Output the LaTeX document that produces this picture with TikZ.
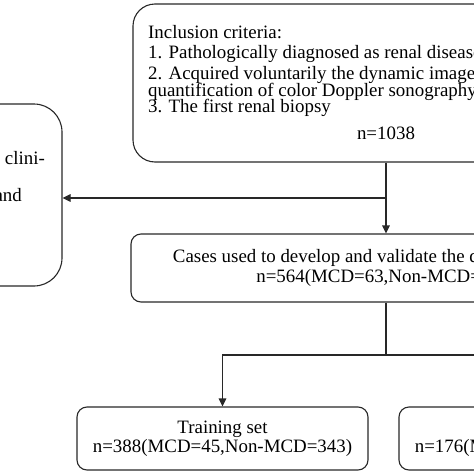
\documentclass[tikz,border=0pt]{standalone}
\usepackage{fontspec}
\setmainfont{Liberation Serif}
\usetikzlibrary{arrows.meta,positioning}
\definecolor{cLine}{RGB}{40,40,40}

\begin{document}
\begin{tikzpicture}[x=1pt,y=-1pt,
    font=\fontsize{18.9}{19.5}\selectfont,
    box/.style={draw=cLine,line width=1.1pt,rounded corners=10pt,inner sep=0pt,align=center},
    arr/.style={draw=cLine,line width=1.1pt,-{Triangle[length=8pt,width=7.5pt]}}]
  \fill[white] (0,0) rectangle (474,474);
  \useasboundingbox (0,0) rectangle (474,474);
  \clip (0,0) rectangle (474,474);
  % top: inclusion criteria
  \node[box,rounded corners=22pt,minimum width=506pt,minimum height=158pt] (incl) at (386,83) {};
  \foreach \y/\t [count=\i] in {38/{Inclusion criteria:},
      58/{1. Pathologically diagnosed as renal disease},
      79/{2. Acquired voluntarily the dynamic image},
      96/{quantification of color Doppler sonography},
      112/{3. The first renal biopsy}}
    \node[anchor=base west,inner sep=0pt] (crit\i) at (148,\y) {\t};
  \node[anchor=base,inner sep=0pt] (nall) at (386,139) {n=1038};
  % left: excluded cases
  \node[box,rounded corners=28pt,minimum width=262pt,minimum height=182pt] (excl) at (-69,195) {};
  \node[anchor=base east,inner sep=0pt] (exa) at (45,164) {missing data, clini-};
  \node[anchor=base east,inner sep=0pt] (exb) at (22,201) {data and};
  % middle: all cases
  \node[box,minimum width=510pt,minimum height=68pt] (cases) at (386,268)
    {Cases used to develop and validate the diagnostic model\\
     n=564(MCD=63,Non-MCD=501)};
  % bottom: training and validation
  \node[box,minimum width=291pt,minimum height=63pt] (train) at (222.5,438.5)
    {Training set\\ n=388(MCD=45,Non-MCD=343)};
  \node[box,minimum width=291pt,minimum height=63pt] (valid) at (544.5,438.5)
    {Validation set\\ n=176(MCD=18,Non-MCD=158)};
  % connectors
  \coordinate (split) at (386,198);
  \coordinate (fork) at (386,355);
  \draw[arr] (incl.south) -- (cases.north);
  \draw[arr] (split) -- (split -| excl.east);
  \draw[draw=cLine,line width=1.1pt] (cases.south) -- (fork);
  \draw[arr] (fork) -| (train.north);
  \draw[arr] (fork) -| (valid.north);
\end{tikzpicture}
\end{document}
